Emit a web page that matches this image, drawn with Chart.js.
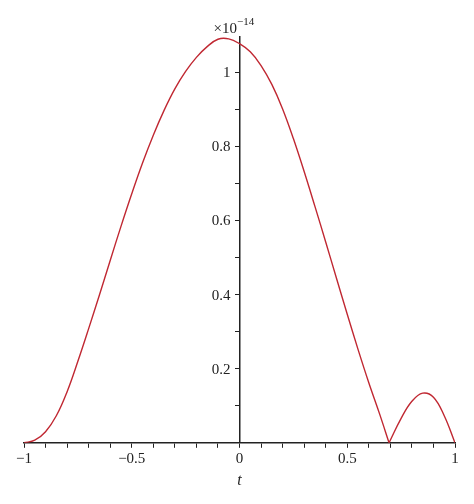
<!DOCTYPE html>
<html>
<head>
<meta charset="utf-8">
<script src="https://cdn.jsdelivr.net/npm/chart.js@4.4.1/dist/chart.umd.min.js"></script>
<style>
	html, body { margin: 0; padding: 0; background: #fff; }
	#wrap { width: 474px; height: 504px; }
</style>
</head>
<body>
<div id="wrap"><canvas id="plot" width="474" height="504"></canvas></div>
<script>
// t values and curve values (in units of 1e-14)
const tValues = [-1, -0.95, -0.9, -0.85, -0.8, -0.75, -0.7, -0.65, -0.6, -0.55, -0.5, -0.45, -0.4, -0.35, -0.3, -0.25, -0.2, -0.15, -0.1, -0.05,
	0, 0.05, 0.1, 0.15, 0.2, 0.25, 0.3, 0.35, 0.4, 0.45, 0.5, 0.55, 0.6, 0.65, 0.694, 0.75, 0.8, 0.85, 0.9, 0.95, 1];
const fValues = [0, 0.007, 0.030, 0.073, 0.138, 0.220, 0.308, 0.399, 0.492, 0.584, 0.672, 0.755, 0.830, 0.897, 0.955, 1.002, 1.040, 1.069, 1.089, 1.090,
	1.077, 1.055, 1.018, 0.967, 0.901, 0.821, 0.732, 0.638, 0.542, 0.444, 0.347, 0.252, 0.162, 0.078, 0, 0.066, 0.112, 0.134, 0.123, 0.073, 0];
const xTickLabels = [-1, -0.5, 0, 0.5, 1];
const yTickLabels = [0.2, 0.4, 0.6, 0.8, 1];

const serif = 'Liberation Serif';
const ink = '#222';
const red = 'rgb(192, 40, 50)';

function fmt(v) {
	const s = String(Math.round(v * 10) / 10);
	return s.replace('-', '\u2212');
}

function isLabel(v, list) {
	return list.some(l => Math.abs(l - v) < 1e-6);
}

// the curve touches zero inside the range (a cusp), draw each lobe on its own
const points = tValues.map((t, i) => ({ x: t, y: fValues[i] }));
const cusp = fValues.findIndex((v, i) => i > 0 && i < fValues.length - 1 && v === 0);
const lobes = [points.slice(0, cusp + 1), points.slice(cusp)];

const axisText = {
	id: 'axisText',
	afterDraw(chart) {
		const ctx = chart.ctx;
		const x0 = chart.scales.x.getPixelForValue(0);
		const yScale = chart.scales.y;
		ctx.save();
		ctx.fillStyle = ink;
		ctx.font = '15px "' + serif + '"';
		ctx.textAlign = 'right';
		ctx.textBaseline = 'middle';
		yTickLabels.forEach(v => {
			ctx.fillText(fmt(v), x0 - 9, yScale.getPixelForValue(v) + 1);
		});
		ctx.textBaseline = 'alphabetic';
		ctx.textAlign = 'left';
		ctx.fillText('\u00d710', x0 - 26, 33);
		const w = ctx.measureText('\u00d710').width;
		ctx.font = '11px "' + serif + '"';
		ctx.fillText('\u221214', x0 - 26 + w, 25);
		ctx.restore();
	}
};

new Chart(document.getElementById('plot'), {
	type: 'line',
	data: {
		datasets: lobes.map(lobe => ({
			data: lobe,
			borderColor: red,
			borderWidth: 1.4,
			pointRadius: 0,
			tension: 0.4,
			fill: false
		}))
	},
	options: {
		responsive: false,
		animation: false,
		elements: { line: { capBezierPoints: false } },
		layout: { padding: { left: 24, right: 19, top: 37, bottom: 14 } },
		plugins: {
			legend: { display: false },
			tooltip: { enabled: false }
		},
		scales: {
			x: {
				type: 'linear',
				min: -1,
				max: 1,
				grid: { drawOnChartArea: false, drawTicks: true, tickLength: 5, color: ink, lineWidth: 1 },
				border: { display: true, color: ink, width: 1.5 },
				ticks: {
					stepSize: 0.1,
					autoSkip: false,
					maxRotation: 0,
					color: ink,
					padding: 2,
					font: { family: serif, size: 15 },
					callback: (v) => isLabel(v, xTickLabels) ? fmt(v) : ''
				},
				title: {
					display: true,
					text: 't',
					color: ink,
					padding: { top: 1, bottom: 0 },
					font: { family: serif, size: 16, style: 'italic' }
				}
			},
			y: {
				type: 'linear',
				position: { x: 0 },
				min: 0,
				max: 1.095,
				grid: { drawOnChartArea: false, drawTicks: true, tickLength: 4, color: ink, lineWidth: 1 },
				border: { display: true, color: ink, width: 1.5 },
				ticks: {
					stepSize: 0.1,
					includeBounds: false,
					autoSkip: false,
					display: false
				}
			}
		}
	},
	plugins: [axisText]
});
</script>
</body>
</html>
